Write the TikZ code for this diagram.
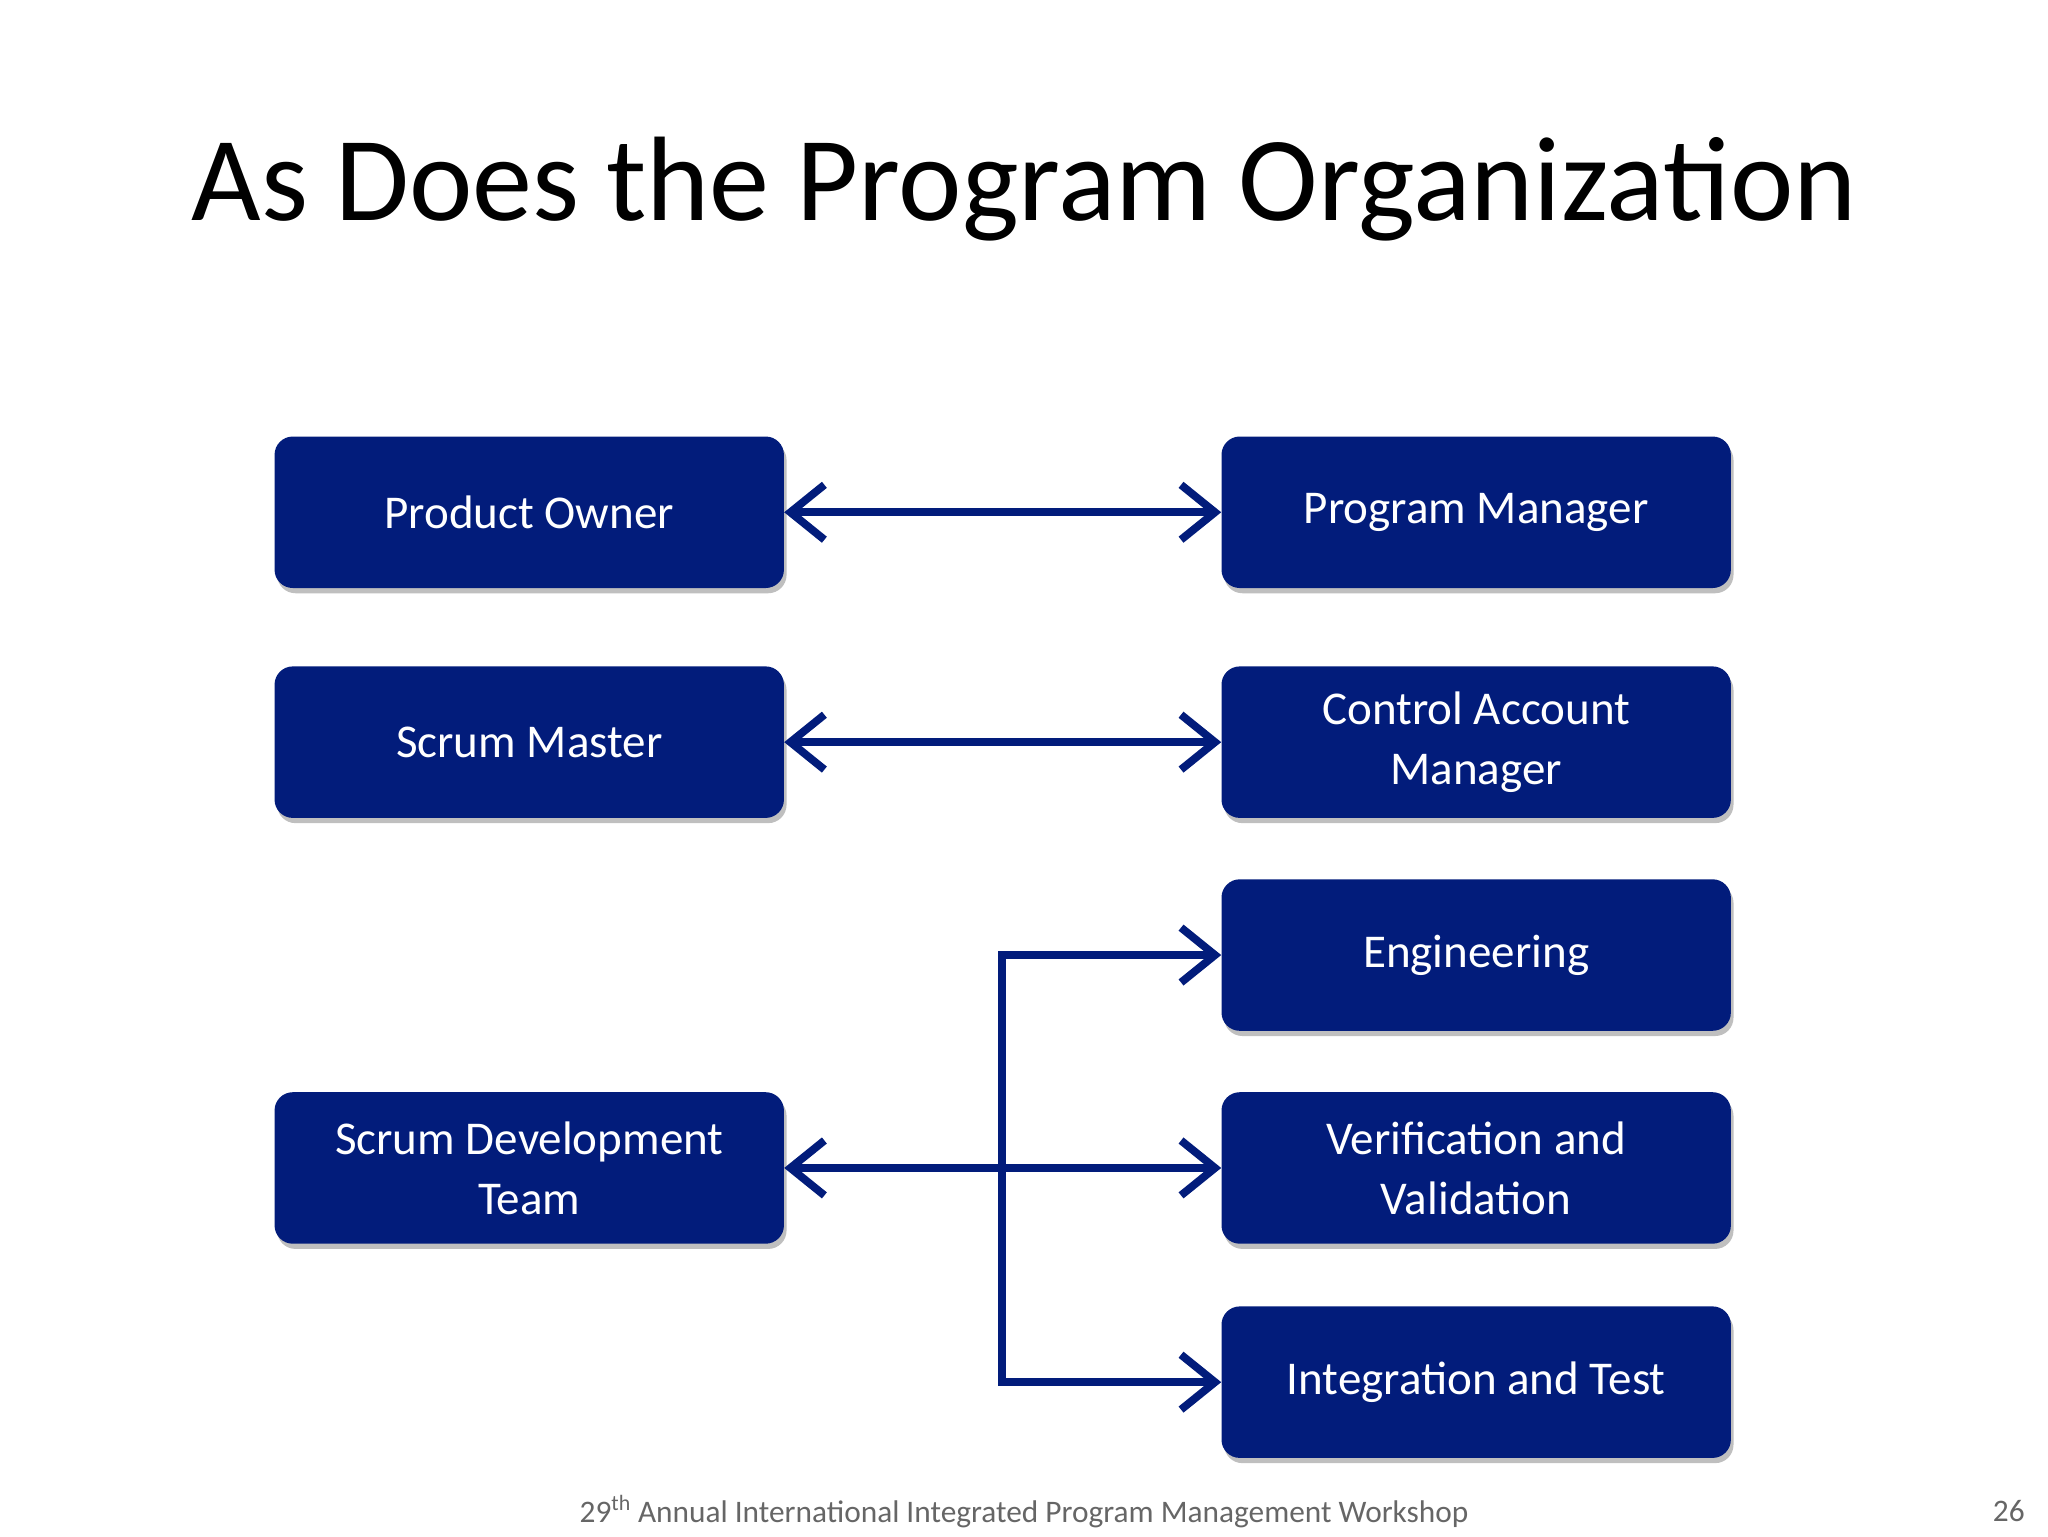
\documentclass[tikz,border=0pt]{standalone}
\usepackage{fontspec}
\setmainfont{Carlito}
\usetikzlibrary{arrows.meta,shadows}
\definecolor{navy}{RGB}{2,28,123}
\begin{document}
\begin{tikzpicture}[x=1pt,y=-1pt,
  box/.style={draw=none,fill=navy,rounded corners=14pt,minimum width=390pt,minimum height=116pt,
    text=white,font=\fontsize{36}{46}\selectfont,align=center,anchor=north west,
    drop shadow={shadow xshift=2pt,shadow yshift=-4pt,opacity=0.25,fill=black}},
  conn/.style={draw=navy,line width=6pt},
  tip/.style={-{Straight Barb[length=26pt,width=42pt,line width=6pt]}},
  both/.style={{Straight Barb[length=26pt,width=42pt,line width=6pt]}-{Straight Barb[length=26pt,width=42pt,line width=6pt]}}]
\useasboundingbox (0,0) rectangle (1568,1176);
\node[font=\fontsize{92}{100}\selectfont] (title) at (784,145) {As Does the Program Organization};
\node[box] (po) at (210,334) {Product Owner};
\node[box] (pm) at (935,334) {Program Manager};
\node[box] (sm) at (210,510) {Scrum Master};
\node[box] (cam) at (935,510) {Control Account\\Manager};
\node[box] (eng) at (935,673) {Engineering};
\node[box] (sdt) at (210,836) {Scrum Development\\Team};
\node[box] (vv) at (935,836) {Verification and\\Validation};
\node[box] (it) at (935,1000) {Integration and Test};
\draw[conn,both] (po.east) -- (pm.west);
\draw[conn,both] (sm.east) -- (cam.west);
\draw[conn,both] (sdt.east) -- (vv.west);
\coordinate (j) at (767,894);
\draw[conn,tip] (j) |- (eng.west);
\draw[conn,tip] (j) |- (it.west);
\node[text=black!60,font=\fontsize{24}{28}\selectfont] (foot) at (784,1157) {29\textsuperscript{th} Annual International Integrated Program Management Workshop};
\node[text=black!60,font=\fontsize{24}{28}\selectfont] (pg) at (1538,1157) {26};
\end{tikzpicture}
\end{document}
